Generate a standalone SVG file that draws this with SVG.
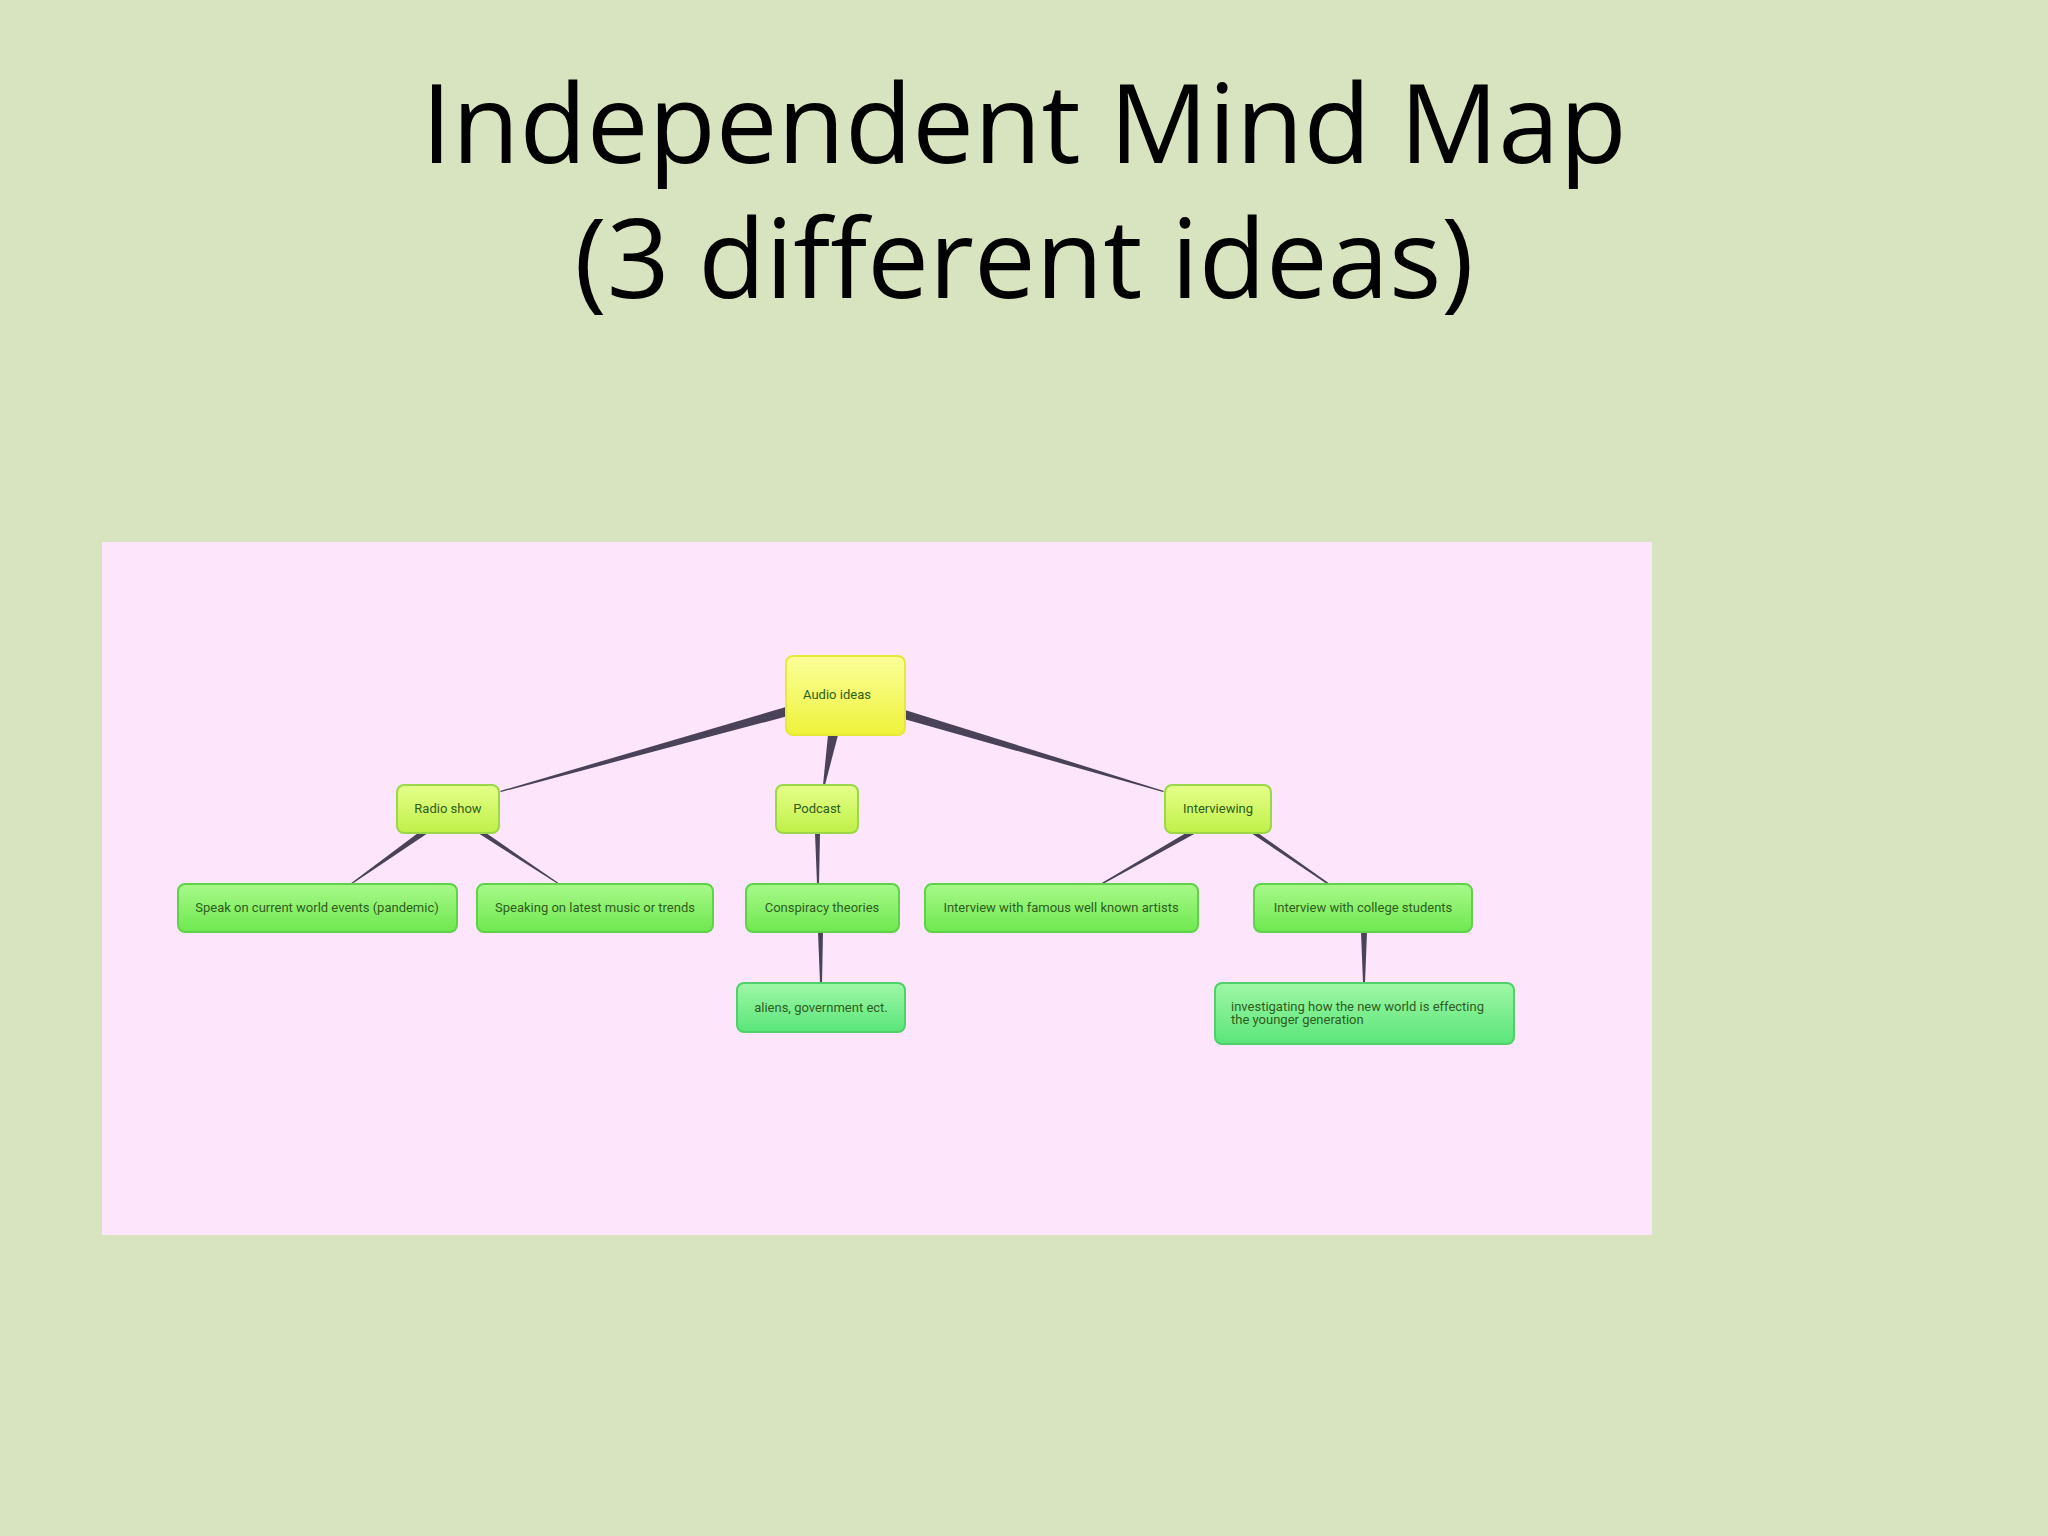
<svg xmlns="http://www.w3.org/2000/svg" width="2048" height="1536" viewBox="0 0 2048 1536">
<style>
.t{font-family:"Roboto","Liberation Sans",sans-serif;font-size:13px;fill:#2f5e1c;text-anchor:middle}
.lg{fill:url(#gl);stroke:#9ad84a;stroke-width:2}
.gr{fill:url(#gg);stroke:#5fd24a;stroke-width:2}
.aq{fill:url(#ga);stroke:#4fd06a;stroke-width:2}
.c{fill:#4a4258}
</style>
<defs>
<linearGradient id="gy" x1="0" y1="0" x2="0" y2="1"><stop offset="0" stop-color="#fbff9a"/><stop offset="1" stop-color="#eef23a"/></linearGradient>
<linearGradient id="gl" x1="0" y1="0" x2="0" y2="1"><stop offset="0" stop-color="#e6ff8a"/><stop offset="1" stop-color="#bff048"/></linearGradient>
<linearGradient id="gg" x1="0" y1="0" x2="0" y2="1"><stop offset="0" stop-color="#a8f98a"/><stop offset="1" stop-color="#6ee84f"/></linearGradient>
<linearGradient id="ga" x1="0" y1="0" x2="0" y2="1"><stop offset="0" stop-color="#9ff7a6"/><stop offset="1" stop-color="#5ae57a"/></linearGradient>
</defs>
<rect width="2048" height="1536" fill="#d7e4bf"/>
<g font-family="'Open Sans','Noto Sans',sans-serif" font-size="110" fill="#000" text-anchor="middle">
<text x="1024" y="163">Independent Mind Map</text>
<text x="1024" y="298">(3 different ideas)</text>
</g>
<rect x="102" y="542" width="1550" height="693" fill="#fde6fc"/>
<g id="connectors">
<polygon class="c" points="786,707 788,716 501,792 500,791"/>
<polygon class="c" points="828,735 838,735 825,785 823,785"/>
<polygon class="c" points="905,710 904,719 1163,792 1164,791"/>
<polygon class="c" points="418,833 428,833 352,884 350,884"/>
<polygon class="c" points="478,833 486,833 560,884 558,884"/>
<polygon class="c" points="815,833 820,833 819,884 817,884"/>
<polygon class="c" points="818,932 823,932 822,983 820,983"/>
<polygon class="c" points="1186,833 1196,833 1103,884 1100,884"/>
<polygon class="c" points="1251,833 1258,833 1330,884 1327,884"/>
<polygon class="c" points="1361,932 1367,932 1365,983 1363,983"/>
</g>
<g id="n-audio"><rect x="786" y="656" width="119" height="79" rx="7" fill="url(#gy)" stroke="#e6e83a" stroke-width="2"/><text class="t" x="837" y="699" fill="#6b6a1a">Audio ideas</text></g>
<g id="n-radio"><rect class="lg" x="397" y="785" width="102" height="48" rx="7"/><text class="t" x="448" y="813">Radio show</text></g>
<g id="n-podcast"><rect class="lg" x="776" y="785" width="82" height="48" rx="7"/><text class="t" x="817" y="813">Podcast</text></g>
<g id="n-interviewing"><rect class="lg" x="1165" y="785" width="106" height="48" rx="7"/><text class="t" x="1218" y="813">Interviewing</text></g>
<g id="n-speak"><rect class="gr" x="178" y="884" width="279" height="48" rx="7"/><text class="t" x="317" y="912">Speak on current world events (pandemic)</text></g>
<g id="n-music"><rect class="gr" x="477" y="884" width="236" height="48" rx="7"/><text class="t" x="595" y="912">Speaking on latest music or trends</text></g>
<g id="n-conspiracy"><rect class="gr" x="746" y="884" width="153" height="48" rx="7"/><text class="t" x="822" y="912">Conspiracy theories</text></g>
<g id="n-artists"><rect class="gr" x="925" y="884" width="273" height="48" rx="7"/><text class="t" x="1061" y="912">Interview with famous well known artists</text></g>
<g id="n-college"><rect class="gr" x="1254" y="884" width="218" height="48" rx="7"/><text class="t" x="1363" y="912">Interview with college students</text></g>
<g id="n-aliens"><rect class="aq" x="737" y="983" width="168" height="49" rx="7"/><text class="t" x="821" y="1012">aliens, government ect.</text></g>
<g id="n-investigating"><rect class="aq" x="1215" y="983" width="299" height="61" rx="7"/><text class="t" x="1231" y="1011" text-anchor="start" style="text-anchor:start">investigating how the new world is effecting</text><text class="t" x="1231" y="1024" style="text-anchor:start">the younger generation</text></g>
</svg>
